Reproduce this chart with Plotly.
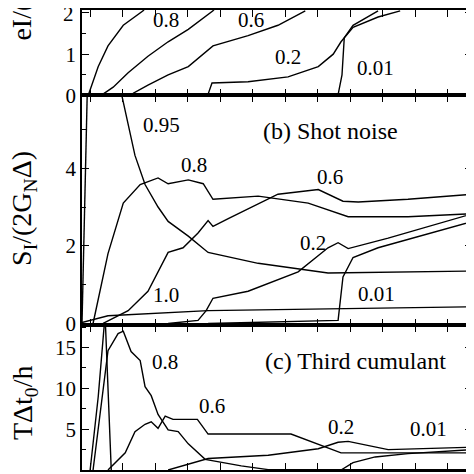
import plotly.graph_objects as go

# Panel (a) current
a_x = {
 "1.0": [-0.06, 0.25, 0.55, 1.02, 1.63, 1.78],
 "0.8": [0.34, 0.71, 1.17, 1.78, 2.4, 3.02, 3.78, 3.94],
 "0.6": [0.86, 1.32, 1.78, 2.4, 3.02, 3.78, 4.86, 5.78, 6.62],
 "0.2": [2.4, 3.63, 3.75, 4.86, 6.09, 7.02, 7.48, 7.72, 8.09, 8.86, 9.54],
 "0.01": [3.63, 7.63, 7.75, 7.82, 8.09, 8.86],
}
a_y = {
 "1.0": [0, 0.7, 1.2, 1.7, 2.05, 2.2],
 "0.8": [0, 0.2, 0.55, 0.95, 1.3, 1.6, 2.05, 2.2],
 "0.6": [0, 0.05, 0.25, 0.5, 0.7, 1.2, 1.45, 1.7, 2.05],
 "0.2": [0, 0.03, 0.3, 0.33, 0.45, 0.7, 1.0, 1.3, 1.65, 1.9, 2.05],
 "0.01": [0, 0.02, 0.5, 1.4, 1.7, 2.05],
}
a_ticks = [0, 1, 2]
# Panel (b) shot noise
b_x = {
 "spike": [-0.25, -0.06],
 "1.0": [-0.28, 0.55, 3.63, 11.78],
 "0.95": [0.89, 1.38, 1.69, 2.09, 2.4, 3.02, 3.63, 5.17, 7.32, 11.78],
 "0.8": [0.09, 0.55, 1.02, 1.54, 2.09, 2.4, 3.02, 3.48, 3.78, 5.17, 6.71, 7.94, 9.78, 11.78],
 "0.6": [0.4, 1.17, 1.78, 2.4, 2.86, 3.32, 3.63, 3.78, 4.25, 5.78, 7.02, 7.78, 8.25, 9.78, 11.78],
 "0.2": [2.4, 3.32, 3.57, 3.78, 4.86, 6.4, 7.32, 7.63, 7.94, 9.17, 11.78],
 "0.01": [3.63, 7.63, 7.78, 8.09, 8.86, 11.78],
}
b_y = {
 "spike": [0, 7],
 "1.0": [0.02, 0.2, 0.33, 0.43],
 "0.95": [6.2, 4.33, 3.58, 3.0, 2.63, 2.25, 1.83, 1.55, 1.3, 1.35],
 "0.8": [0, 1.8, 3.1, 3.58, 3.75, 3.6, 3.7, 3.6, 3.2, 3.28, 3.1, 2.75, 2.75, 2.83],
 "0.6": [0, 0.33, 0.83, 1.83, 1.95, 2.33, 2.65, 2.5, 2.7, 3.33, 3.45, 3.15, 3.13, 3.2, 3.33],
 "0.2": [0, 0.08, 0.33, 0.65, 0.83, 1.33, 1.95, 2.08, 1.93, 2.2, 2.83],
 "0.01": [0, 0.08, 1.2, 1.7, 1.95, 2.63],
}
# Panel (c) third cumulant
c_x = {
 "spike": [0.0, 0.25, 0.46, 0.65],
 "0.8": [0.09, 0.55, 0.86, 1.02, 1.26, 1.54, 1.69, 1.88, 2.09, 2.4, 2.71, 3.02, 3.54, 4.65, 5.48, 11.78],
 "0.6": [0.55, 1.08, 1.38, 1.69, 1.88, 2.09, 2.31, 2.55, 3.3, 3.63, 6.18, 7.72, 11.78],
 "0.2": [2.4, 3.63, 5.48, 7.02, 7.63, 7.94, 9.17, 11.78],
 "0.01": [5.48, 7.72, 8.09, 8.77, 9.78, 11.78],
}
c_y = {
 "spike": [0, 9, 19, 0],
 "0.8": [0, 14.6, 16.7, 17.0, 14.5, 13.4, 10.2, 9.1, 6.8, 4.9, 4.7, 3.2, 1.3, 0.5, 0.05, 0.05],
 "0.6": [0, 2.1, 4.7, 5.6, 5.9, 5.1, 6.6, 6.2, 6.2, 4.4, 4.4, 2.1, 2.1],
 "0.2": [0, 1.4, 1.8, 2.6, 3.4, 3.5, 2.5, 2.8],
 "0.01": [0, 0, 0.9, 1.6, 2.0, 2.5],
}

fig = go.Figure()
line = dict(color="black", width=1.4)
for k in a_x:
    fig.add_trace(go.Scatter(x=a_x[k], y=a_y[k], mode="lines", line=line, xaxis="x", yaxis="y", showlegend=False))
for k in b_x:
    fig.add_trace(go.Scatter(x=b_x[k], y=b_y[k], mode="lines", line=line, xaxis="x2", yaxis="y2", showlegend=False))
for k in c_x:
    fig.add_trace(go.Scatter(x=c_x[k], y=c_y[k], mode="lines", line=line, xaxis="x3", yaxis="y3", showlegend=False))

font = dict(family="Liberation Serif", size=21, color="black")
xcommon = dict(range=[-0.25, 11.75], dtick=1, tick0=0, ticks="inside", ticklen=7, showticklabels=False,
               showline=True, linecolor="black", linewidth=1.5, mirror="ticks", showgrid=False, zeroline=False,
               tickcolor="black", tickwidth=1.3)
ycommon = dict(ticks="inside", ticklen=7, showline=True, linecolor="black", linewidth=1.5, mirror="ticks",
               showgrid=False, zeroline=False, tickfont=font, tickcolor="black", tickwidth=1.3)
fig.update_layout(
    width=474, height=474, margin=dict(l=74, r=10, t=0, b=0),
    plot_bgcolor="white", paper_bgcolor="white",
    xaxis=dict(xcommon, domain=[0, 1], anchor="y"),
    xaxis2=dict(xcommon, domain=[0, 1], anchor="y2"),
    xaxis3=dict(xcommon, domain=[0, 1], anchor="y3"),
    yaxis=dict(ycommon, domain=[0.8143, 1], range=[0, 2.07], tickvals=a_ticks,
               ticktext=["0", "1", ""],
               minor=dict(dtick=0.5, ticks="inside", ticklen=4, tickcolor="black")),
    yaxis2=dict(ycommon, domain=[0.3143, 0.8143], range=[-0.05, 5.875], dtick=2,
                minor=dict(dtick=1, ticks="inside", ticklen=4, tickcolor="black")),
    yaxis3=dict(ycommon, domain=[0, 0.3143], range=[0, 17.7], dtick=5,
                minor=dict(dtick=2.5, ticks="inside", ticklen=4, tickcolor="black")),
)

def ann(text, x, y, size=21, angle=0):
    fig.add_annotation(text=text, xref="paper", yref="paper", x=(x - 74) / 390, y=1 - y / 474,
                       showarrow=False, font=dict(family="Liberation Serif", size=size, color="black"),
                       textangle=angle, xanchor="center", yanchor="middle")

ann("2", 60, 4)
ann("0.8", 158, 10); ann("0.6", 243, 10); ann("0.2", 280, 48); ann("0.01", 367, 60)
ann("0.95", 153, 118); ann("(b) Shot noise", 322, 125, 24); ann("0.8", 186, 160); ann("0.6", 322, 172)
ann("0.2", 305, 240); ann("1.0", 158, 294); ann("0.01", 368, 293)
ann("0.8", 157, 363); ann("(c) Third cumulant", 347, 362, 24); ann("0.6", 204, 408)
ann("0.2", 333, 430); ann("0.01", 420, 432)
ann("eI/(G<sub>N</sub>Δ)", 16, -20, 28, -90)
ann("S<sub>I</sub>/(2G<sub>N</sub>Δ)", 16, 205, 28, -90)
ann("TΔt<sub>0</sub>/h", 16, 405, 28, -90)

fig.write_html("out.html")
